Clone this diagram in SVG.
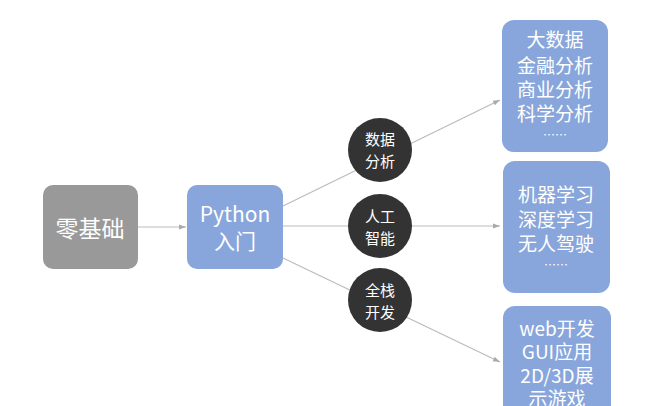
<svg xmlns="http://www.w3.org/2000/svg" width="650" height="406" viewBox="0 0 650 406">
<defs>
<marker id="ah" markerWidth="8" markerHeight="8" refX="7" refY="4" orient="auto" markerUnits="userSpaceOnUse">
<path d="M0,1.5 L7,4 L0,6.5 Z" fill="#aaaaaa"/>
</marker>
<style>
.t{font-family:"Noto Sans CJK SC","Noto Sans",sans-serif;fill:#ffffff;text-anchor:middle;dominant-baseline:central}
.blue{fill:#88a6db}
.ln{stroke:#bbbbbb;stroke-width:1.2;fill:none}
.c{fill:#333333}
</style>
</defs>
<rect width="650" height="406" fill="#ffffff"/>
<g id="connectors">
<line class="ln" x1="138" y1="227" x2="186" y2="227" marker-end="url(#ah)"/>
<line class="ln" x1="283" y1="206" x2="500" y2="100" marker-end="url(#ah)"/>
<line class="ln" x1="283" y1="226" x2="500" y2="226" marker-end="url(#ah)"/>
<line class="ln" x1="283" y1="258" x2="500" y2="362" marker-end="url(#ah)"/>
</g>
<g id="zero">
<rect x="43" y="185" width="95" height="84" rx="10" fill="#999999"/>
<text class="t" x="90" y="227" font-size="23">零基础</text>
</g>
<g id="python">
<rect class="blue" x="187" y="185" width="96" height="84" rx="10"/>
<text class="t" x="235" y="213" font-size="21">Python</text>
<text class="t" x="235" y="240" font-size="21">入门</text>
</g>
<g id="data">
<circle class="c" cx="380" cy="150" r="32"/>
<text class="t" x="380" y="138" font-size="15">数据</text>
<text class="t" x="380" y="160" font-size="15">分析</text>
</g>
<g id="ai">
<circle class="c" cx="380" cy="226" r="32"/>
<text class="t" x="380" y="215" font-size="15">人工</text>
<text class="t" x="380" y="237" font-size="15">智能</text>
</g>
<g id="fullstack">
<circle class="c" cx="380" cy="300" r="32"/>
<text class="t" x="380" y="289" font-size="15">全栈</text>
<text class="t" x="380" y="311" font-size="15">开发</text>
</g>
<g id="box1">
<rect class="blue" x="502" y="20" width="106" height="132" rx="12"/>
<text class="t" x="555" y="38" font-size="19">大数据</text>
<text class="t" x="555" y="64" font-size="19">金融分析</text>
<text class="t" x="555" y="88" font-size="19">商业分析</text>
<text class="t" x="555" y="112" font-size="19">科学分析</text>
<text class="t" x="555" y="134" font-size="12">……</text>
</g>
<g id="box2">
<rect class="blue" x="503" y="161" width="107" height="132" rx="12"/>
<text class="t" x="556" y="193" font-size="19">机器学习</text>
<text class="t" x="556" y="218" font-size="19">深度学习</text>
<text class="t" x="556" y="242" font-size="19">无人驾驶</text>
<text class="t" x="556" y="264" font-size="12">……</text>
</g>
<g id="box3">
<rect class="blue" x="503" y="306" width="108" height="120" rx="12"/>
<text class="t" x="557" y="327" font-size="19">web开发</text>
<text class="t" x="557" y="350" font-size="19">GUI应用</text>
<text class="t" x="557" y="374" font-size="19">2D/3D展</text>
<text class="t" x="557" y="397" font-size="19">示游戏</text>
</g>
</svg>
